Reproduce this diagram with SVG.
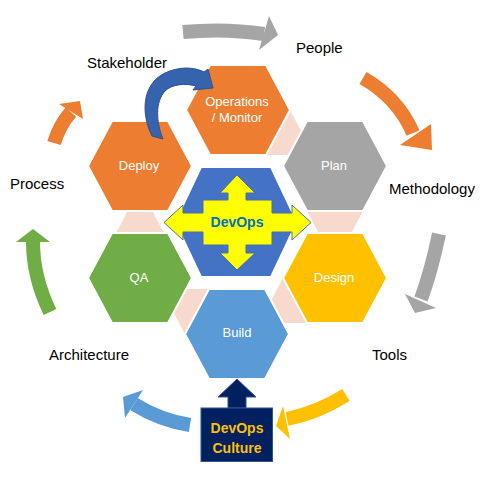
<svg xmlns="http://www.w3.org/2000/svg" width="497" height="479" viewBox="0 0 497 479">
<style>
.hex{stroke:#fff;stroke-width:2}
.pink{fill:#F8D9CE}
.lbl{font-family:"Liberation Sans",Arial,sans-serif;font-size:13px;fill:#fff;text-anchor:middle}
.out{font-family:"Liberation Sans",Arial,sans-serif;font-size:15px;fill:#000}
.bold{font-family:"Liberation Sans",Arial,sans-serif;font-weight:bold;font-size:14px;text-anchor:middle}
.body{fill:none;stroke-width:14;stroke-linecap:butt}
</style>
<rect width="497" height="479" fill="#fff"/>
<g id="connectors">
  <polygon class="pink" points="290,110 301.4,131.4 288.9,155 266,155"/>
  <polygon class="pink" points="307,211 363,211 351.3,233 318.7,233"/>
  <polygon class="pink" points="116,233 164,233 152.3,211 127.7,211"/>
  <polygon class="pink" points="186.1,289 209,289 185,334 173.5,312.6"/>
  <polygon class="pink" points="283,278 271.1,300.4 283.1,323 307,323"/>
  <!-- cycle arrows -->
  <path class="body" stroke="#A5A5A5" d="M183,32 Q225,28 264,34"/>
  <polygon fill="#A5A5A5" points="269,16 278,35 259,50"/>
  <path class="body" stroke="#ED7D31" d="M363,78 Q398,98 413,133"/>
  <polygon fill="#ED7D31" points="400,145 431,124 432,150"/>
  <path class="body" stroke="#A5A5A5" d="M439,234 Q431,272 421,299"/>
  <polygon fill="#A5A5A5" points="405,294 436,308 415,313"/>
  <path class="body" stroke="#FFC000" d="M346,395 Q317,413 287,419"/>
  <polygon fill="#FFC000" points="283,406 290,439 276,426"/>
  <path class="body" stroke="#5B9BD5" d="M190,425 Q159,420 134,404"/>
  <polygon fill="#5B9BD5" points="143,390 125,418 123,397"/>
  <path class="body" stroke="#70AD47" d="M50,312 Q33,277 33,242"/>
  <polygon fill="#70AD47" points="16,242 50,242 33,229"/>
  <path class="body" stroke="#ED7D31" d="M54,143 Q60,124 71,112"/>
  <polygon fill="#ED7D31" points="59,104 83,119 80,101"/>
</g>
<g id="ops"><polygon class="hex" fill="#ED7D31" points="186,110 210,65 266,65 290,110 266,155 210,155"/><text class="lbl" x="237" y="106">Operations</text><text class="lbl" x="237" y="122">/ Monitor</text></g>
<g id="deploy"><polygon class="hex" fill="#ED7D31" points="88,166 112,121 168,121 192,166 168,211 112,211"/><text class="lbl" x="139" y="170">Deploy</text></g>
<g id="plan"><polygon class="hex" fill="#A5A5A5" points="283,166 307,121 363,121 387,166 363,211 307,211"/><text class="lbl" x="334" y="170">Plan</text></g>
<g id="qa"><polygon class="hex" fill="#70AD47" points="88,278 112,233 168,233 192,278 168,323 112,323"/><text class="lbl" x="139" y="282">QA</text></g>
<g id="design"><polygon class="hex" fill="#FFC000" points="283,278 307,233 363,233 387,278 363,323 307,323"/><text class="lbl" x="334" y="282">Design</text></g>
<g id="build"><polygon class="hex" fill="#5B9BD5" points="185,334 209,289 265,289 289,334 265,379 209,379"/><text class="lbl" x="237" y="337">Build</text></g>
<g id="devops">
  <polygon class="hex" fill="#4472C4" points="175,222 201,167 271,167 297,222 271,277 201,277"/>
  <polygon fill="#FFFF00" stroke="#4A6FA8" stroke-width="1" points="237,175 255,193 246,193 246,200 272,200 272,213 292,213 292,205 311,222.5 292,240 292,232 272,232 272,245 246,245 246,253 255,253 237,270 220,253 228,253 228,245 203,245 203,232 183,232 183,240 164,222.5 183,205 183,213 203,213 203,200 228,200 228,193 220,193"/>
  <text class="bold" x="237" y="227" fill="#0070C0">DevOps</text>
</g>
<g id="stakeholder-arrow">
  <path fill="#3563AE" stroke="#2F528F" stroke-width="1" d="M152,136 C140,112 142,80 170,71 C184,66 196,68 204,72 L208,69 L213,88 L193,90 L196,86 C186,83 172,84 165,91 C155,102 156,122 163,139 Z"/>
</g>
<g id="culture">
  <polygon fill="#002060" stroke="#2F5597" stroke-width="1" points="218,397 237,379 256,397 246,397 246,408 228,408 228,397"/>
  <rect x="201" y="408" width="71.5" height="53.5" fill="#002060" stroke="#2F5597" stroke-width="1"/>
  <text class="bold" x="237" y="433" fill="#FFC000">DevOps</text>
  <text class="bold" x="237" y="453" fill="#FFC000">Culture</text>
</g>
<g id="labels">
  <text class="out" x="296" y="53">People</text>
  <text class="out" x="87" y="68">Stakeholder</text>
  <text class="out" x="389" y="194">Methodology</text>
  <text class="out" x="10" y="189">Process</text>
  <text class="out" x="49" y="360">Architecture</text>
  <text class="out" x="372" y="360">Tools</text>
</g>
</svg>
